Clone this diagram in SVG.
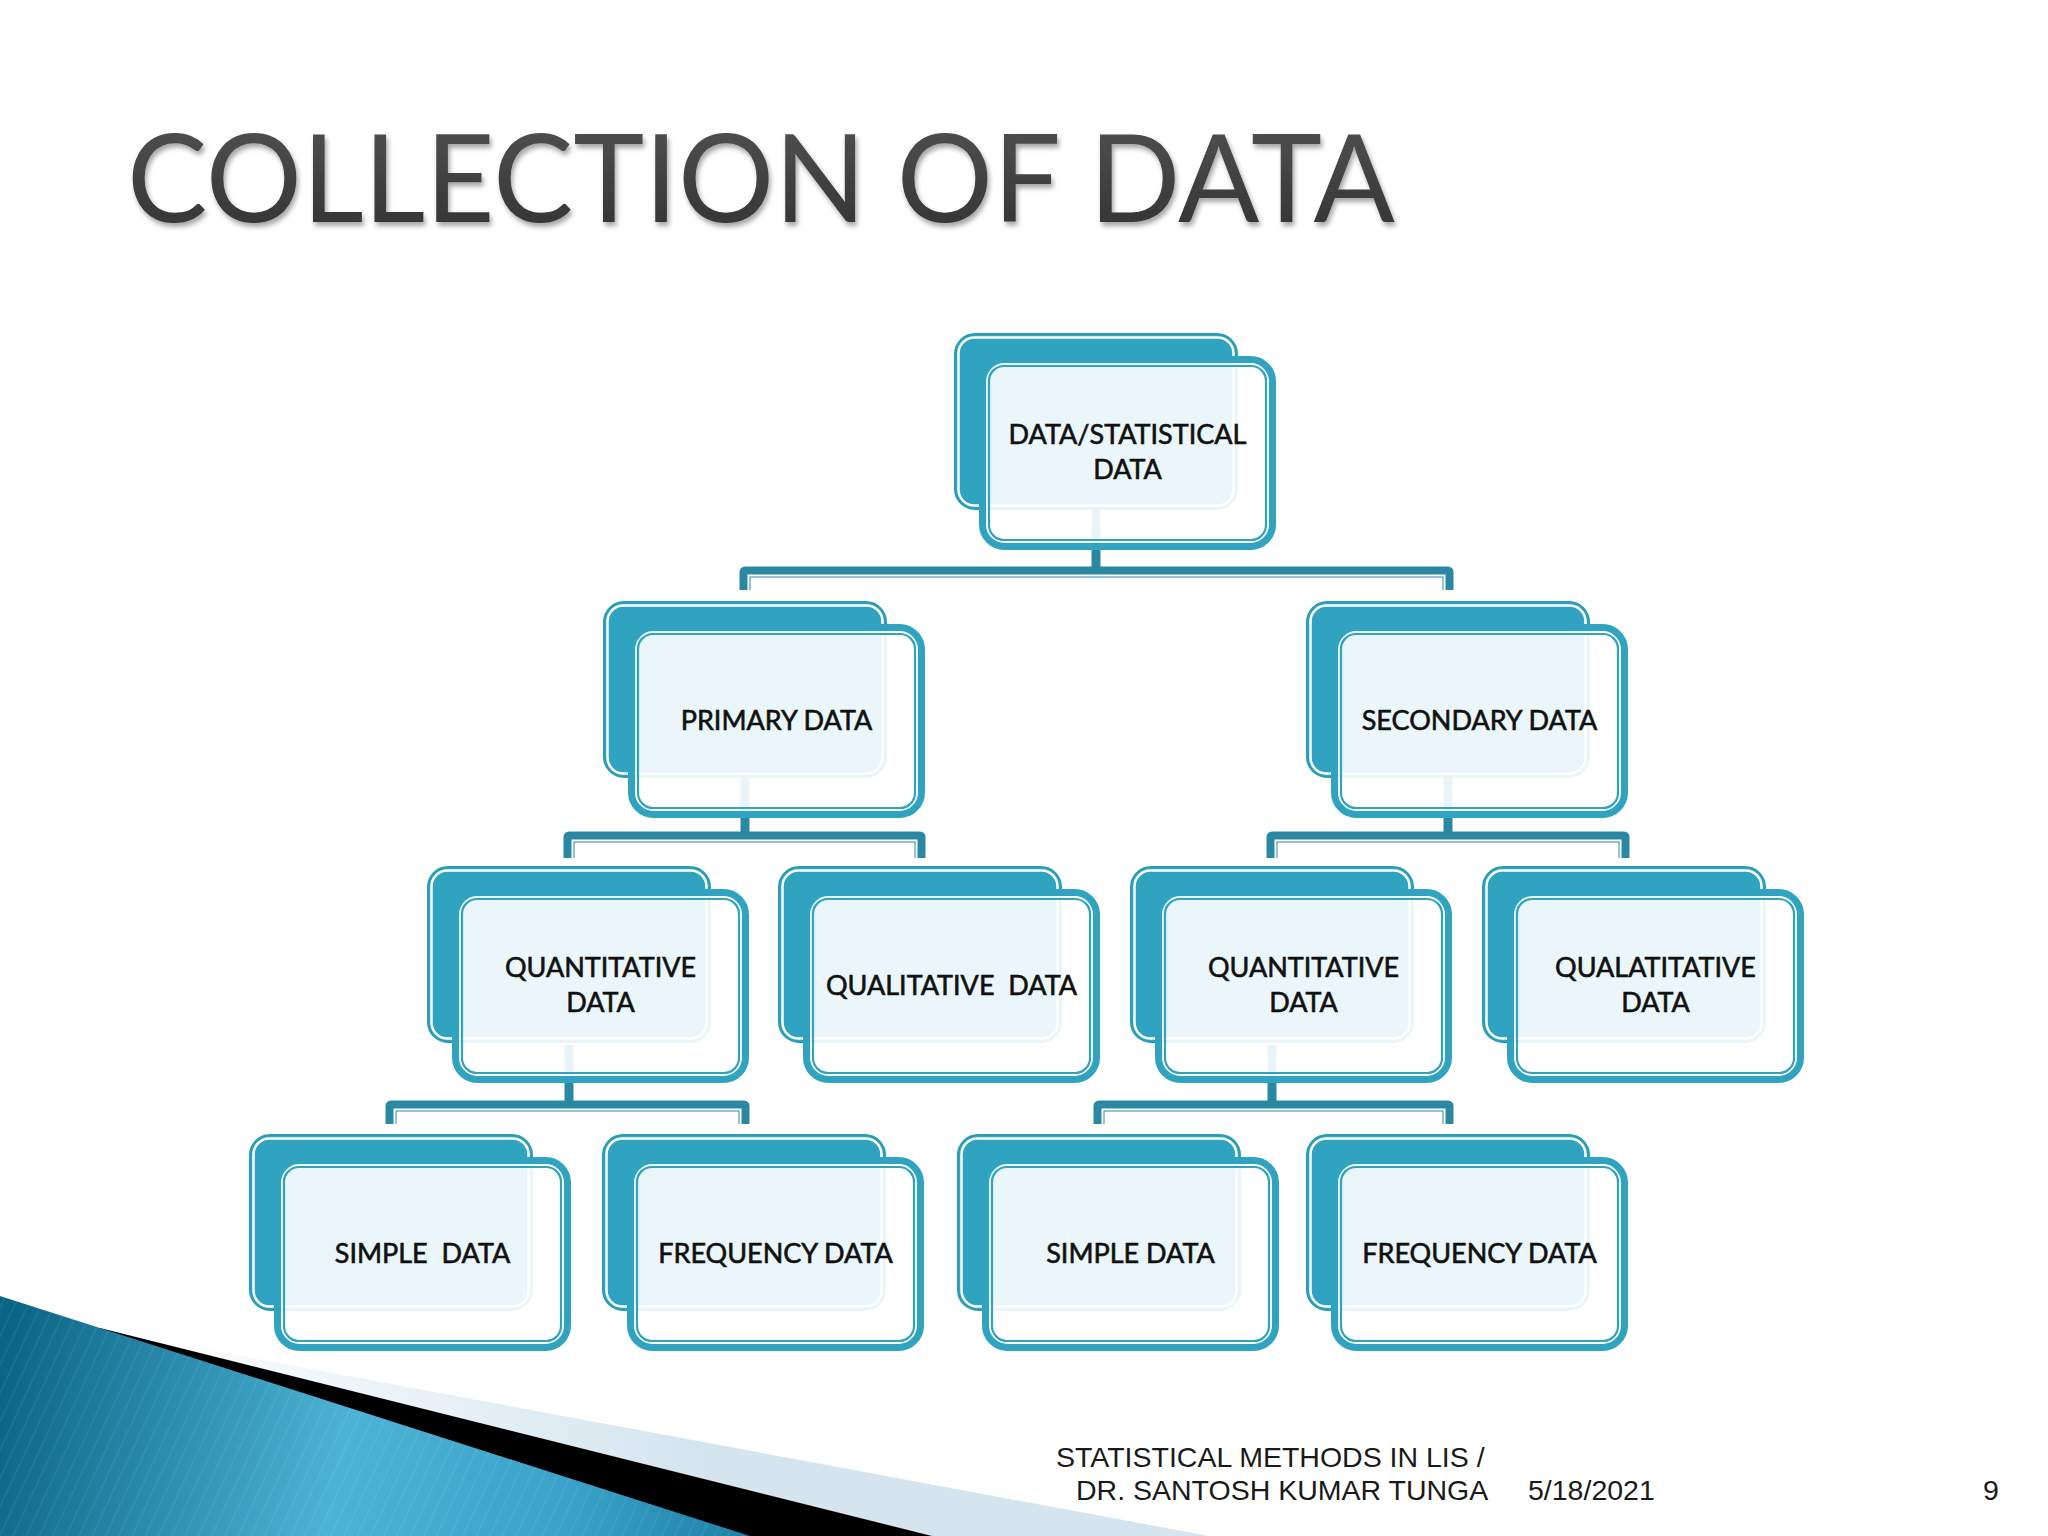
<svg xmlns="http://www.w3.org/2000/svg" width="2048" height="1536" viewBox="0 0 2048 1536">
<defs>
<style>
.back{fill:#2fa3bf;stroke:#2b9bb8;stroke-width:2}
.backline{fill:none;stroke:#ffffff;stroke-width:2.5}
.front{fill:#ffffff;fill-opacity:0.9;stroke:#2fa3bf;stroke-width:7}
.frontline{fill:none;stroke:#2fa3bf;stroke-width:2.2}
.lbl{font-family:Lato,"Open Sans",sans-serif;font-size:27px;fill:#111111;stroke:#111111;stroke-width:0.6;text-anchor:middle;white-space:pre}
.conn{fill:none;stroke:#2a88a3;stroke-width:11;stroke-linejoin:round}
.stub{fill:none;stroke:#2a88a3;stroke-width:9}
.connw{fill:none;stroke:#ffffff;stroke-width:2}
.foot{font-family:"Liberation Sans",Arial,sans-serif;font-size:28.5px;fill:#1a1a1a}
</style>
<linearGradient id="blueGrad" gradientUnits="userSpaceOnUse" x1="0" y1="1380" x2="760" y2="1536">
<stop offset="0" stop-color="#0a6585"/>
<stop offset="0.45" stop-color="#4db3d6"/>
<stop offset="0.75" stop-color="#3aa2c8"/>
<stop offset="1" stop-color="#1c7ea4"/>
</linearGradient>
<linearGradient id="lightGrad" gradientUnits="userSpaceOnUse" x1="120" y1="0" x2="700" y2="0">
<stop offset="0" stop-color="#ffffff"/>
<stop offset="1" stop-color="#d4e5ef"/>
</linearGradient>
<pattern id="stripes" patternUnits="userSpaceOnUse" width="12" height="12" patternTransform="rotate(25)">
<rect width="12" height="12" fill="none"/>
<line x1="0" y1="0" x2="0" y2="12" stroke="#ffffff" stroke-width="3" stroke-opacity="0.07"/>
</pattern>
<filter id="tshadow" x="-5%" y="-20%" width="110%" height="150%">
<feDropShadow dx="2" dy="4" stdDeviation="2.5" flood-color="#000000" flood-opacity="0.35"/>
</filter>
<linearGradient id="titleGrad" x1="0" y1="0" x2="0" y2="1">
<stop offset="0" stop-color="#555555"/>
<stop offset="1" stop-color="#303030"/>
</linearGradient>
</defs>
<rect width="2048" height="1536" fill="#ffffff"/>

<g id="decoration">
<path d="M117 1333 L1209 1536 L0 1536 Z" fill="url(#lightGrad)"/>
<path d="M100 1328 L932 1536 L0 1536 Z" fill="#000000"/>
<path d="M0 1296 L750 1536 L0 1536 Z" fill="url(#blueGrad)"/>
<path d="M0 1296 L750 1536 L0 1536 Z" fill="url(#stripes)"/>
</g>

<g id="title">
<text x="127" y="222" font-family="Lato,'Open Sans',sans-serif" font-size="122" fill="url(#titleGrad)" textLength="1268" lengthAdjust="spacingAndGlyphs" filter="url(#tshadow)">COLLECTION OF DATA</text>
</g>

<g id="connectors">
<path class="stub" d="M1096 510 V572"/>
<path class="conn" d="M745 590 V572 H1448 V590"/>
<path class="connw" d="M748.5 590 V575.5 H1444.5 V590"/>
<path class="stub" d="M745 778 V837"/>
<path class="conn" d="M569 858 V837 H920 V858"/>
<path class="connw" d="M572.5 858 V840.5 H916.5 V858"/>
<path class="stub" d="M1448 778 V837"/>
<path class="conn" d="M1272 858 V837 H1624 V858"/>
<path class="connw" d="M1275.5 858 V840.5 H1620.5 V858"/>
<path class="stub" d="M569 1045 V1106"/>
<path class="conn" d="M391 1124 V1106 H744 V1124"/>
<path class="connw" d="M394.5 1124 V1109.5 H740.5 V1124"/>
<path class="stub" d="M1272 1045 V1106"/>
<path class="conn" d="M1099 1124 V1106 H1448 V1124"/>
<path class="connw" d="M1102.5 1124 V1109.5 H1444.5 V1124"/>
</g>

<g id="node-root" transform="translate(979,356)">
<rect class="back" x="-24" y="-22" width="282" height="175" rx="20"/>
<rect class="backline" x="-20.5" y="-18.5" width="275" height="168" rx="16"/>
<rect class="front" x="3.5" y="3.5" width="290" height="187" rx="22"/>
<rect class="frontline" x="10" y="10" width="277" height="174" rx="15"/>
<text class="lbl" x="148.5" y="88">DATA/STATISTICAL</text>
<text class="lbl" x="148.5" y="123">DATA</text>
</g>

<g id="node-primary" transform="translate(628,624)">
<rect class="back" x="-24" y="-22" width="282" height="175" rx="20"/>
<rect class="backline" x="-20.5" y="-18.5" width="275" height="168" rx="16"/>
<rect class="front" x="3.5" y="3.5" width="290" height="187" rx="22"/>
<rect class="frontline" x="10" y="10" width="277" height="174" rx="15"/>
<text class="lbl" x="148.5" y="106">PRIMARY DATA</text>
</g>

<g id="node-secondary" transform="translate(1331,624)">
<rect class="back" x="-24" y="-22" width="282" height="175" rx="20"/>
<rect class="backline" x="-20.5" y="-18.5" width="275" height="168" rx="16"/>
<rect class="front" x="3.5" y="3.5" width="290" height="187" rx="22"/>
<rect class="frontline" x="10" y="10" width="277" height="174" rx="15"/>
<text class="lbl" x="148.5" y="106">SECONDARY DATA</text>
</g>

<g id="node-quantitative-1" transform="translate(452,889)">
<rect class="back" x="-24" y="-22" width="282" height="175" rx="20"/>
<rect class="backline" x="-20.5" y="-18.5" width="275" height="168" rx="16"/>
<rect class="front" x="3.5" y="3.5" width="290" height="187" rx="22"/>
<rect class="frontline" x="10" y="10" width="277" height="174" rx="15"/>
<text class="lbl" x="148.5" y="88">QUANTITATIVE</text>
<text class="lbl" x="148.5" y="123">DATA</text>
</g>

<g id="node-qualitative" transform="translate(803,889)">
<rect class="back" x="-24" y="-22" width="282" height="175" rx="20"/>
<rect class="backline" x="-20.5" y="-18.5" width="275" height="168" rx="16"/>
<rect class="front" x="3.5" y="3.5" width="290" height="187" rx="22"/>
<rect class="frontline" x="10" y="10" width="277" height="174" rx="15"/>
<text class="lbl" x="148.5" y="106" xml:space="preserve">QUALITATIVE  DATA</text>
</g>

<g id="node-quantitative-2" transform="translate(1155,889)">
<rect class="back" x="-24" y="-22" width="282" height="175" rx="20"/>
<rect class="backline" x="-20.5" y="-18.5" width="275" height="168" rx="16"/>
<rect class="front" x="3.5" y="3.5" width="290" height="187" rx="22"/>
<rect class="frontline" x="10" y="10" width="277" height="174" rx="15"/>
<text class="lbl" x="148.5" y="88">QUANTITATIVE</text>
<text class="lbl" x="148.5" y="123">DATA</text>
</g>

<g id="node-qualatitative" transform="translate(1507,889)">
<rect class="back" x="-24" y="-22" width="282" height="175" rx="20"/>
<rect class="backline" x="-20.5" y="-18.5" width="275" height="168" rx="16"/>
<rect class="front" x="3.5" y="3.5" width="290" height="187" rx="22"/>
<rect class="frontline" x="10" y="10" width="277" height="174" rx="15"/>
<text class="lbl" x="148.5" y="88">QUALATITATIVE</text>
<text class="lbl" x="148.5" y="123">DATA</text>
</g>

<g id="node-simple-1" transform="translate(274,1157)">
<rect class="back" x="-24" y="-22" width="282" height="175" rx="20"/>
<rect class="backline" x="-20.5" y="-18.5" width="275" height="168" rx="16"/>
<rect class="front" x="3.5" y="3.5" width="290" height="187" rx="22"/>
<rect class="frontline" x="10" y="10" width="277" height="174" rx="15"/>
<text class="lbl" x="148.5" y="106" xml:space="preserve">SIMPLE  DATA</text>
</g>

<g id="node-frequency-1" transform="translate(627,1157)">
<rect class="back" x="-24" y="-22" width="282" height="175" rx="20"/>
<rect class="backline" x="-20.5" y="-18.5" width="275" height="168" rx="16"/>
<rect class="front" x="3.5" y="3.5" width="290" height="187" rx="22"/>
<rect class="frontline" x="10" y="10" width="277" height="174" rx="15"/>
<text class="lbl" x="148.5" y="106">FREQUENCY DATA</text>
</g>

<g id="node-simple-2" transform="translate(982,1157)">
<rect class="back" x="-24" y="-22" width="282" height="175" rx="20"/>
<rect class="backline" x="-20.5" y="-18.5" width="275" height="168" rx="16"/>
<rect class="front" x="3.5" y="3.5" width="290" height="187" rx="22"/>
<rect class="frontline" x="10" y="10" width="277" height="174" rx="15"/>
<text class="lbl" x="148.5" y="106">SIMPLE DATA</text>
</g>

<g id="node-frequency-2" transform="translate(1331,1157)">
<rect class="back" x="-24" y="-22" width="282" height="175" rx="20"/>
<rect class="backline" x="-20.5" y="-18.5" width="275" height="168" rx="16"/>
<rect class="front" x="3.5" y="3.5" width="290" height="187" rx="22"/>
<rect class="frontline" x="10" y="10" width="277" height="174" rx="15"/>
<text class="lbl" x="148.5" y="106">FREQUENCY DATA</text>
</g>

<g id="footer">
<text class="foot" x="1056" y="1467">STATISTICAL METHODS IN LIS /</text>
<text class="foot" x="1076" y="1500">DR. SANTOSH KUMAR TUNGA</text>
<text class="foot" x="1528" y="1500">5/18/2021</text>
<text class="foot" x="1983" y="1500">9</text>
</g>
</svg>
